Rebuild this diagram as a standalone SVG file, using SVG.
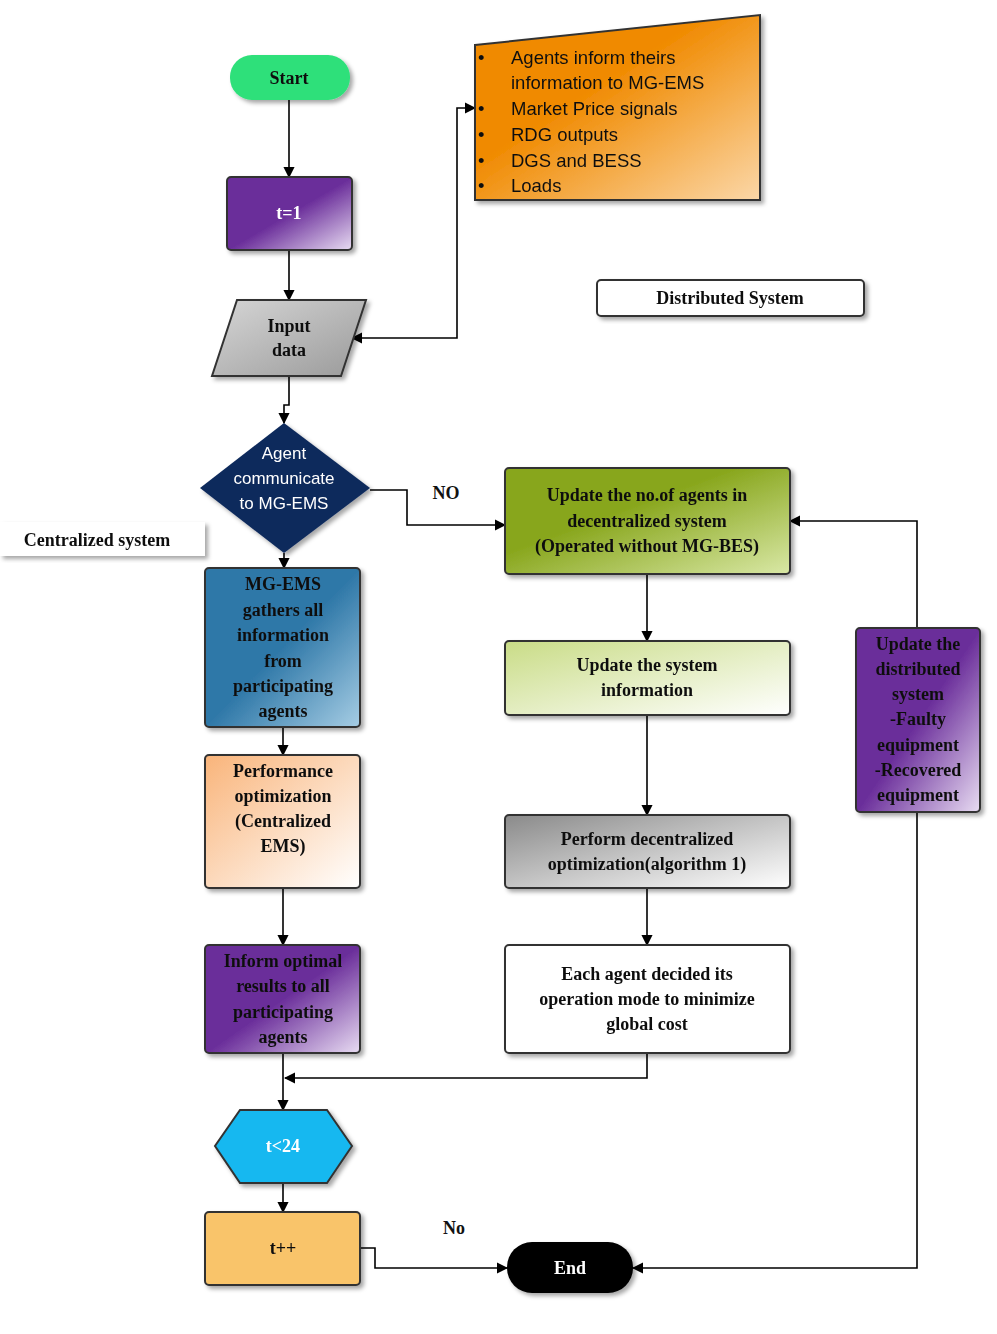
<svg xmlns="http://www.w3.org/2000/svg" width="997" height="1334" viewBox="0 0 997 1334">
<style>
.s{font-family:"Liberation Serif",serif;font-weight:bold;font-size:18px;text-anchor:middle;fill:#111}
.a{font-family:"Liberation Sans",sans-serif;font-size:17px;text-anchor:middle;fill:#fff}
.w{fill:#fff}
.b{stroke:#333;stroke-width:2}
.c{fill:none;stroke:#000;stroke-width:1.6;marker-end:url(#ar)}
</style>
<defs>
<marker id="ar" viewBox="0 0 10 10" refX="9" refY="5" markerWidth="7" markerHeight="7" orient="auto-start-reverse"><path d="M0,0L10,5L0,10z" fill="#000"/></marker>
<filter id="sh" x="-10%" y="-10%" width="130%" height="130%"><feDropShadow dx="3" dy="3" stdDeviation="2" flood-color="#000" flood-opacity="0.35"/></filter>
<linearGradient id="gp" x1="0" y1="0" x2="1" y2="1"><stop offset="0.5" stop-color="#6a2d9a"/><stop offset="1" stop-color="#e8dcf2"/></linearGradient>
<linearGradient id="gg" x1="0" y1="0" x2="1" y2="1"><stop offset="0" stop-color="#d6d6d6"/><stop offset="1" stop-color="#9a9a9a"/></linearGradient>
<linearGradient id="go" x1="0" y1="0" x2="1" y2="1"><stop offset="0.4" stop-color="#f08a00"/><stop offset="1" stop-color="#fbd7a8"/></linearGradient>
<linearGradient id="gb" x1="0" y1="0" x2="1" y2="1"><stop offset="0.5" stop-color="#2f78a8"/><stop offset="1" stop-color="#a6cde4"/></linearGradient>
<linearGradient id="gpe" x1="0" y1="0" x2="1" y2="1"><stop offset="0" stop-color="#f9b47a"/><stop offset="1" stop-color="#fff"/></linearGradient>
<linearGradient id="gn" x1="0" y1="0" x2="1" y2="1"><stop offset="0.4" stop-color="#88a61c"/><stop offset="1" stop-color="#d9e8a6"/></linearGradient>
<linearGradient id="gl" x1="0" y1="0" x2="1" y2="1"><stop offset="0" stop-color="#c9dc86"/><stop offset="1" stop-color="#fff"/></linearGradient>
<linearGradient id="gd" x1="0" y1="0" x2="1" y2="1"><stop offset="0" stop-color="#8a8a8a"/><stop offset="1" stop-color="#fff"/></linearGradient>
</defs>
<rect width="997" height="1334" fill="#fff"/>
<g id="connectors">
<path class="c" d="M289,100V177"/>
<path class="c" d="M289,250V300"/>
<path class="c" d="M289,376V405H284V423"/>
<path class="c" style="marker-start:url(#ar)" d="M352,338H457V108H475"/>
<path class="c" d="M370,490H407V525H505"/>
<path class="c" d="M284,553V568"/>
<path class="c" d="M283,727V755"/>
<path class="c" d="M283,888V945"/>
<path class="c" d="M283,1053V1110"/>
<path class="c" d="M647,1053V1078H285"/>
<path class="c" d="M283,1183V1212"/>
<path class="c" d="M360,1248H375V1268H507"/>
<path class="c" d="M647,574V641"/>
<path class="c" d="M647,715V815"/>
<path class="c" d="M647,888V945"/>
<path class="c" d="M917,812V1268H633"/>
<path class="c" d="M917,628V521H790"/>
<text x="446" y="499" class="s">NO</text>
<text x="454" y="1234" class="s">No</text>
</g>
<g id="start" filter="url(#sh)"><rect x="230" y="55" width="120" height="45" rx="22" fill="#2ee07a"/><text x="289" y="84" class="s">Start</text></g>
<g id="t1" filter="url(#sh)"><rect x="227" y="177" width="125" height="73" rx="4" fill="url(#gp)" class="b"/><text x="289" y="219" class="s w">t=1</text></g>
<g id="input" filter="url(#sh)"><polygon points="237,300 366,300 341,376 212,376" fill="url(#gg)" class="b"/><text x="289" y="332" class="s">Input</text><text x="289" y="356" class="s">data</text></g>
<g id="info" filter="url(#sh)"><polygon points="475,45 760,15 760,200 475,200" fill="url(#go)" class="b"/>
<g font-family="Liberation Sans,sans-serif" font-size="18.5" fill="#111">
<text x="478" y="64">•</text><text x="511" y="64">Agents inform theirs</text><text x="511" y="89">information to MG-EMS</text>
<text x="478" y="115">•</text><text x="511" y="115">Market Price signals</text>
<text x="478" y="141">•</text><text x="511" y="141">RDG outputs</text>
<text x="478" y="167">•</text><text x="511" y="167">DGS and BESS</text>
<text x="478" y="192">•</text><text x="511" y="192">Loads</text></g></g>
<g id="dist" filter="url(#sh)"><rect x="597" y="280" width="267" height="36" rx="4" fill="#fff" class="b"/><text x="730" y="304" class="s">Distributed System</text></g>
<g id="agent" filter="url(#sh)"><polygon points="284,423 370,488 284,553 200,488" fill="#0f2a5c"/><text x="284" y="459" class="a">Agent</text><text x="284" y="484" class="a">communicate</text><text x="284" y="509" class="a">to MG-EMS</text></g>
<g id="central" filter="url(#sh)"><rect x="0" y="522" width="205" height="34" fill="#fff"/><text x="97" y="546" class="s">Centralized system</text></g>
<g id="mgems" filter="url(#sh)"><rect x="205" y="568" width="155" height="159" rx="4" fill="url(#gb)" class="b"/>
<text x="283" y="590" class="s">MG-EMS</text><text x="283" y="616" class="s">gathers all</text><text x="283" y="641" class="s">information</text><text x="283" y="667" class="s">from</text><text x="283" y="692" class="s">participating</text><text x="283" y="717" class="s">agents</text></g>
<g id="perf" filter="url(#sh)"><rect x="205" y="755" width="155" height="133" rx="4" fill="url(#gpe)" class="b"/>
<text x="283" y="777" class="s">Performance</text><text x="283" y="802" class="s">optimization</text><text x="283" y="827" class="s">(Centralized</text><text x="283" y="852" class="s">EMS)</text></g>
<g id="inform" filter="url(#sh)"><rect x="205" y="945" width="155" height="108" rx="4" fill="url(#gp)" class="b"/>
<text x="283" y="967" class="s">Inform optimal</text><text x="283" y="992" class="s">results to all</text><text x="283" y="1018" class="s">participating</text><text x="283" y="1043" class="s">agents</text></g>
<g id="t24" filter="url(#sh)"><polygon points="240,1110 327,1110 352,1146 327,1183 240,1183 215,1146" fill="#18b8f0" class="b"/><text x="283" y="1152" class="s w">t&lt;24</text></g>
<g id="tpp" filter="url(#sh)"><rect x="205" y="1212" width="155" height="73" rx="4" fill="#f9c46a" class="b"/><text x="283" y="1254" class="s">t++</text></g>
<g id="end" filter="url(#sh)"><rect x="507" y="1242" width="126" height="51" rx="25" fill="#000"/><text x="570" y="1274" class="s w">End</text></g>
<g id="upd1" filter="url(#sh)"><rect x="505" y="468" width="285" height="106" rx="4" fill="url(#gn)" class="b"/>
<text x="647" y="501" class="s">Update the no.of agents in</text><text x="647" y="527" class="s">decentralized system</text><text x="647" y="552" class="s">(Operated without MG-BES)</text></g>
<g id="upd2" filter="url(#sh)"><rect x="505" y="641" width="285" height="74" rx="4" fill="url(#gl)" class="b"/>
<text x="647" y="671" class="s">Update the system</text><text x="647" y="696" class="s">information</text></g>
<g id="perfd" filter="url(#sh)"><rect x="505" y="815" width="285" height="73" rx="4" fill="url(#gd)" class="b"/>
<text x="647" y="845" class="s">Perform decentralized</text><text x="647" y="870" class="s">optimization(algorithm 1)</text></g>
<g id="each" filter="url(#sh)"><rect x="505" y="945" width="285" height="108" rx="4" fill="#fff" class="b"/>
<text x="647" y="980" class="s">Each agent decided its</text><text x="647" y="1005" class="s">operation mode to minimize</text><text x="647" y="1030" class="s">global cost</text></g>
<g id="upd3" filter="url(#sh)"><rect x="856" y="628" width="124" height="184" rx="4" fill="url(#gp)" class="b"/>
<text x="918" y="650" class="s">Update the</text><text x="918" y="675" class="s">distributed</text><text x="918" y="700" class="s">system</text><text x="918" y="725" class="s">-Faulty</text><text x="918" y="751" class="s">equipment</text><text x="918" y="776" class="s">-Recovered</text><text x="918" y="801" class="s">equipment</text></g>
</svg>
